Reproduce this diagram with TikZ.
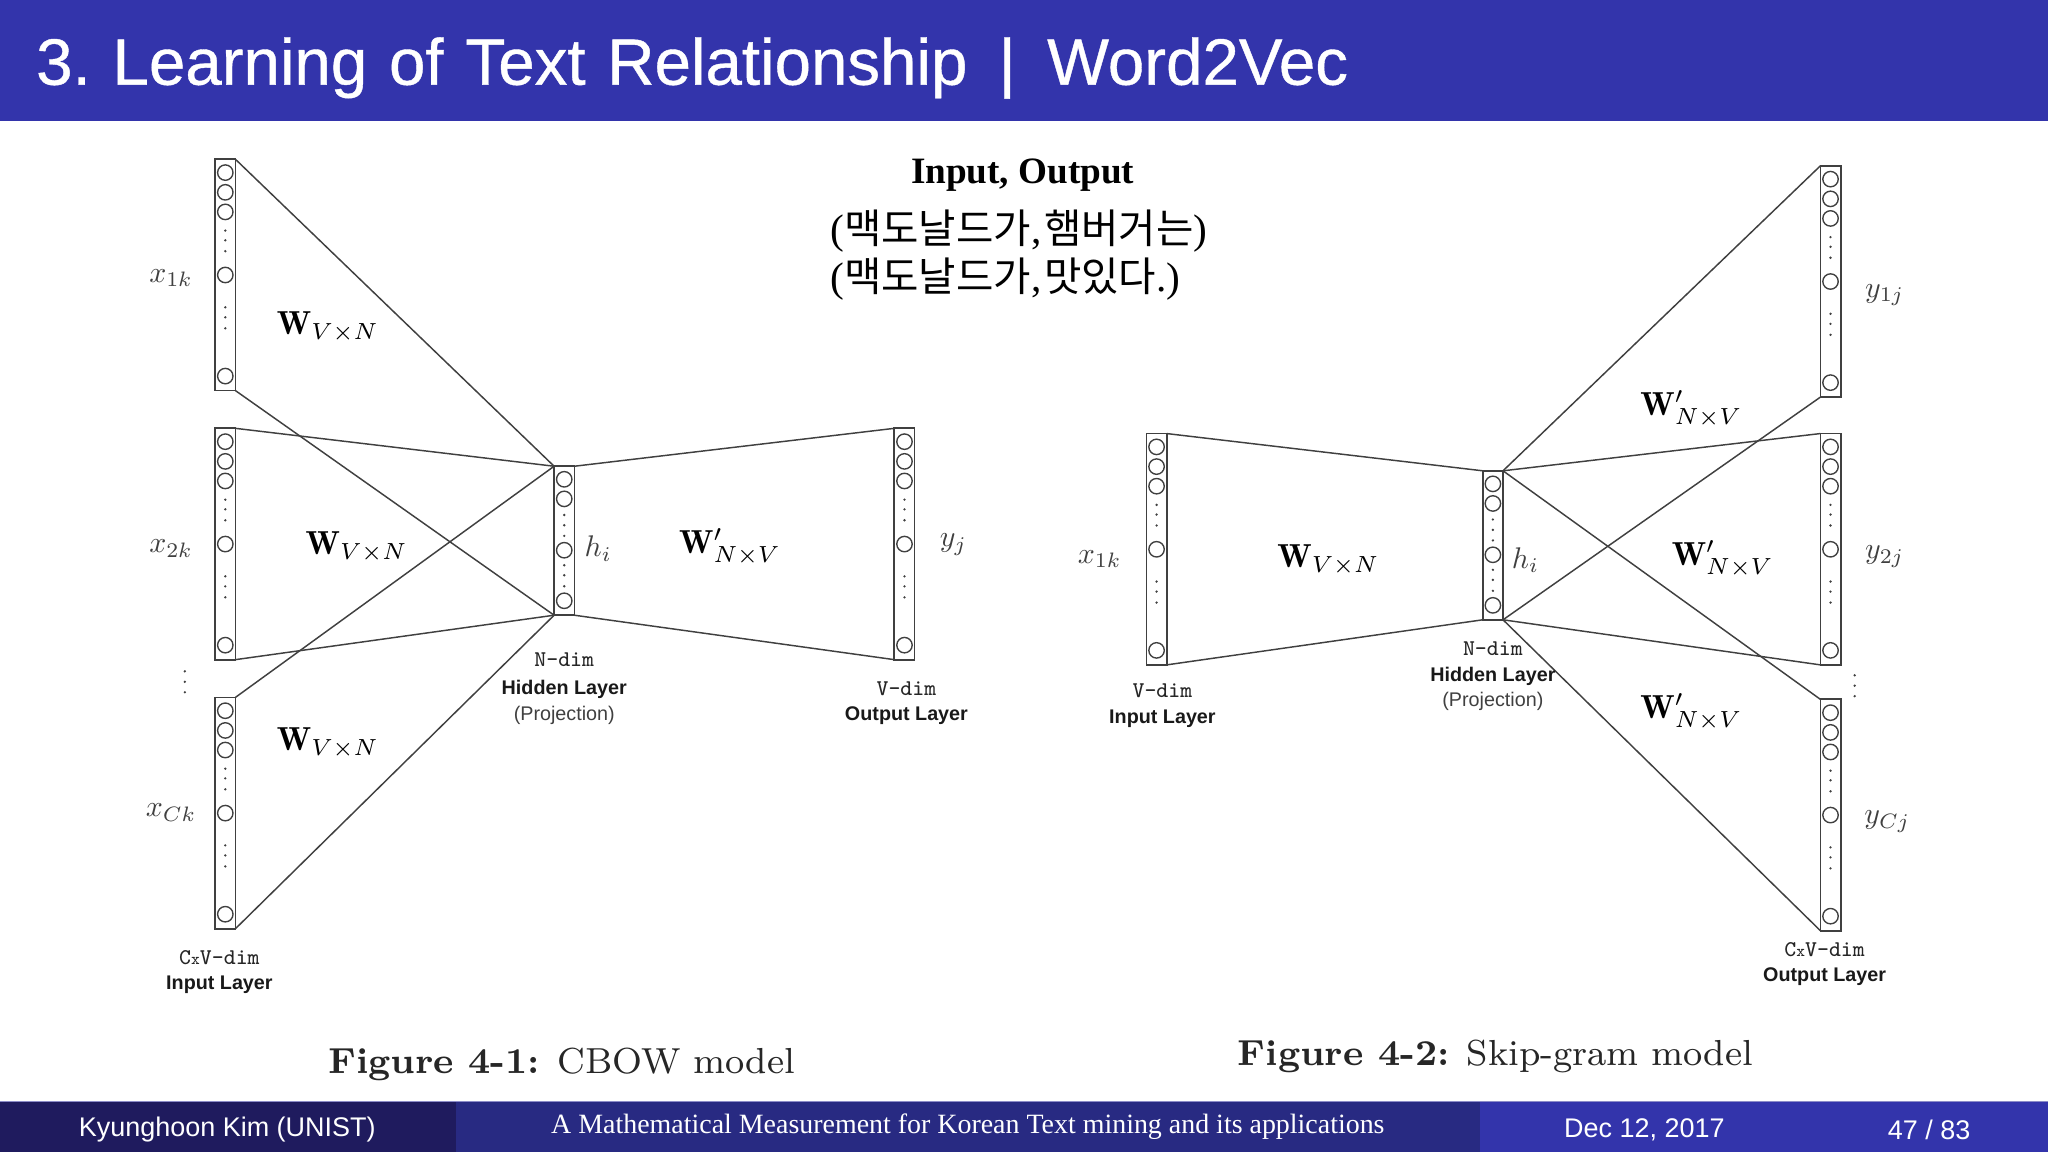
\documentclass[tikz,border=0pt]{standalone}
\usepackage{fontspec}
\newfontfamily\helv{Liberation Sans}
\newfontfamily\helvmed[FakeBold=0.6,WordSpace=1.2]{Liberation Sans}
\newfontfamily\timesf{Liberation Serif}
\newfontfamily\hangul{Noto Sans CJK KR}
\def\fsize#1{\fontsize{#1}{#1}\selectfont}
\def\hansize{\hangul\fsize{8.85}}
\definecolor{barblue}{HTML}{3334AB}
\definecolor{footdark}{HTML}{1F1B5E}
\definecolor{footmid}{HTML}{282A82}
\definecolor{footline}{HTML}{8C8CC8}
\colorlet{linegray}{black!75}
\tikzset{
  colbox/.style={draw=linegray, line width=.38pt, minimum width=.155cm, inner sep=0pt, outer sep=0pt},
  tallbox/.style={colbox, minimum height=1.77cm},
  shortbox/.style={colbox, minimum height=1.14cm},
  unit/.style={circle, draw=linegray, line width=.3pt, minimum size=.118cm, inner sep=0pt},
  dot/.style={circle, fill=linegray, minimum size=.02cm, inner sep=0pt},
  weight/.style={scale=.725},
  varlabel/.style={scale=.65, text=black!75},
  dimlabel/.style={font=\ttfamily\fsize{4.9}, text=black!85},
  layername/.style={font=\helv\bfseries\fsize{4.3}, text=black!90},
  projname/.style={font=\helv\fsize{4.3}, text=black!75},
  figcaption/.style={font=\fsize{7.88}, text=black!85},
  footertext/.style={text=white, font=\helv\fsize{5.87}}
}
\tikzstyle{edge} = [draw=linegray, line width=.32pt]

% name, centre x, centre y
\newcommand{\tallcol}[3]{
  \node[tallbox] (#1) at (#2,#3) {};
  \foreach \k/\off in {1/10.2,2/25.3,3/40.3,4/88.6,5/166}
    \node[unit] (#1u\k) at ([yshift=-\off*0.01cm]#1.north) {};
  \foreach \k/\off in {1/54.6,2/62,3/70.4,4/113.3,5/121,6/129.4}
    \node[dot] (#1d\k) at ([yshift=-\off*0.01cm]#1.north) {};
}
\newcommand{\shortcol}[3]{
  \node[shortbox] (#1) at (#2,#3) {};
  \foreach \k/\off in {1/10,2/25,3/64.3,4/103}
    \node[unit] (#1u\k) at ([yshift=-\off*0.01cm]#1.north) {};
  \foreach \k/\off in {1/37.3,2/45.2,3/53.3,4/75.8,5/83.5,6/91.9}
    \node[dot] (#1d\k) at ([yshift=-\off*0.01cm]#1.north) {};
}
% the three dots between columns
\newcommand{\gapdots}[3]{
  \foreach \k/\off in {1/-8,2/0,3/8}
    \node[dot] (#1\k) at ([yshift=-\off*0.01cm]#2,#3) {};
}

\begin{document}
\begin{tikzpicture}[x=0.01cm,y=-0.01cm]
  \useasboundingbox (0,0) rectangle (1568,882);
  \fill[barblue] (0,0) rectangle (1568,93);
  \fill[footdark] (0,843) rectangle (349,882);
  \fill[footmid] (349,843) rectangle (1133,882);
  \fill[barblue] (1133,843) rectangle (1568,882);
  \draw[footline, line width=.2pt] (0,843) -- (1568,843);

  \node[anchor=west, text=white, font=\helvmed\fsize{14.25}, inner sep=0pt] (title) at (27,52) {3.\ Learning of Text Relationship\hspace{2.4mm}|\hspace{2.4mm}Word2Vec};
  \node[footertext] (author) at (174,865) {Kyunghoon Kim (UNIST)};
  \node[footertext, font=\timesf\fsize{6.08}] (talk) at (741,863) {A Mathematical Measurement for Korean Text mining and its applications};
  \node[footertext] (date) at (1259,865) {Dec 12, 2017};
  \node[footertext] (page) at (1477,865) {47 / 83};

  \node[font=\timesf\bfseries\fsize{8.1}, inner sep=0pt] (io) at (783,134) {Input, Output};
  \node[anchor=west, font=\timesf\fsize{9}, inner sep=0pt] (pair1) at (635,177) {({\hansize 맥도날드가},\hspace{.6pt}{\hansize 햄버거는})};
  \node[anchor=west, font=\timesf\fsize{9}, inner sep=0pt] (pair2) at (635,214) {({\hansize 맥도날드가},\hspace{.6pt}{\hansize 맛있다}.)};

  % CBOW
  \tallcol{ina}{172.5}{210.5}
  \tallcol{inb}{172.5}{416.5}
  \tallcol{inc}{172.5}{622.5}
  \shortcol{hida}{432}{414}
  \tallcol{outa}{692.5}{416.5}
  \gapdots{gapa}{141.5}{522}

  \foreach \src in {ina,inb,inc} {
    \path[edge] (\src.north east) -- (hida.north west);
    \path[edge] (\src.south east) -- (hida.south west);
  }
  \path[edge] (hida.north east) -- (outa.north west);
  \path[edge] (hida.south east) -- (outa.south west);

  \node[varlabel] (xa) at (131,213) {$x_{1k}$};
  \node[varlabel] (xb) at (131,420) {$x_{2k}$};
  \node[varlabel] (xc) at (131,622) {$x_{Ck}$};
  \node[varlabel] (ha) at (458,420) {$h_i$};
  \node[varlabel] (ya) at (730,417) {$y_j$};
  \node[weight] (wa) at (251,250) {$\mathbf{W}_{V\times N}$};
  \node[weight] (wb) at (273,419) {$\mathbf{W}_{V\times N}$};
  \node[weight] (wc) at (251,569) {$\mathbf{W}_{V\times N}$};
  \node[weight] (wd) at (559,419) {$\mathbf{W}'_{N\times V}$};

  \node[dimlabel] (dima) at (432,505) {N-dim};
  \node[layername] (hnamea) at (432,528) {Hidden Layer};
  \node[projname] (proja) at (432,548) {(Projection)};
  \node[dimlabel] (dimb) at (694,527) {V-dim};
  \node[layername] (onamea) at (694,548) {Output Layer};
  \node[dimlabel] (dimc) at (168,733) {C{\fsize{3.6}x}V-dim};
  \node[layername] (inamea) at (168,754) {Input Layer};
  \node[figcaption] (capa) at (430,815) {\textbf{Figure 4-1:} CBOW model};

  % Skip-gram
  \tallcol{inr}{885.5}{420.5}
  \shortcol{hidr}{1143}{417.5}
  \tallcol{outx}{1401.5}{215.5}
  \tallcol{outy}{1401.5}{420.5}
  \tallcol{outz}{1401.5}{624}
  \gapdots{gapr}{1420}{525}

  \path[edge] (inr.north east) -- (hidr.north west);
  \path[edge] (inr.south east) -- (hidr.south west);
  \foreach \dst in {outx,outy,outz} {
    \path[edge] (hidr.north east) -- (\dst.north west);
    \path[edge] (hidr.south east) -- (\dst.south west);
  }

  \node[varlabel] (xr) at (842,428) {$x_{1k}$};
  \node[varlabel] (hr) at (1168,429) {$h_i$};
  \node[varlabel] (yx) at (1443,226) {$y_{1j}$};
  \node[varlabel] (yy) at (1443,426) {$y_{2j}$};
  \node[varlabel] (yz) at (1445,629) {$y_{Cj}$};
  \node[weight] (wr) at (1017,429) {$\mathbf{W}_{V\times N}$};
  \node[weight] (wx) at (1295,313) {$\mathbf{W}'_{N\times V}$};
  \node[weight] (wy) at (1319,428) {$\mathbf{W}'_{N\times V}$};
  \node[weight] (wz) at (1295,545) {$\mathbf{W}'_{N\times V}$};

  \node[dimlabel] (dimr) at (1143,497) {N-dim};
  \node[layername] (hnamer) at (1143,518) {Hidden Layer};
  \node[projname] (projr) at (1143,537) {(Projection)};
  \node[dimlabel] (dims) at (890,529) {V-dim};
  \node[layername] (inamer) at (890,550) {Input Layer};
  \node[dimlabel] (dimt) at (1397,727) {C{\fsize{3.6}x}V-dim};
  \node[layername] (onamer) at (1397,748) {Output Layer};
  \node[figcaption] (capr) at (1145,809) {\textbf{Figure 4-2:} Skip-gram model};
\end{tikzpicture}
\end{document}
